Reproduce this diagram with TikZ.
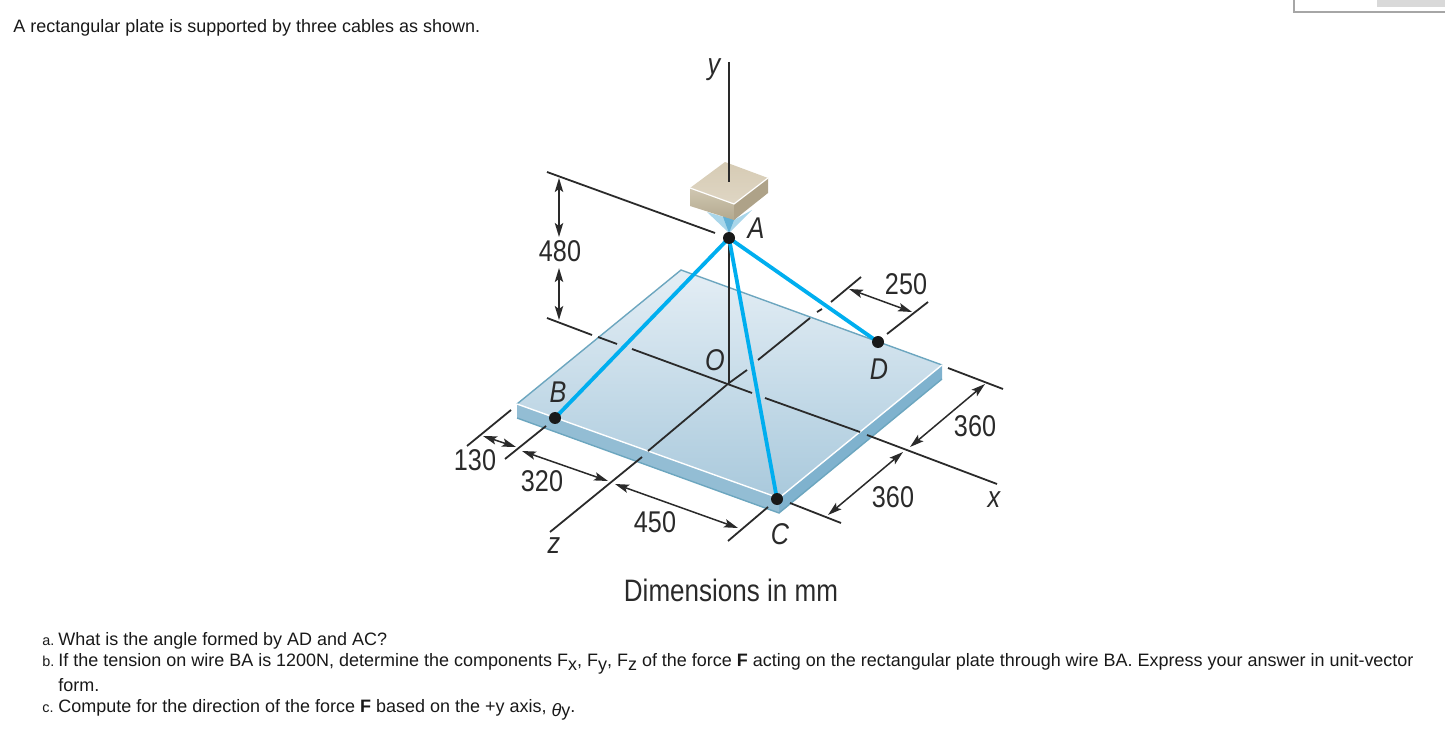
\documentclass[tikz,border=0pt]{standalone}
\usepackage{fontspec}
\setmainfont{Liberation Sans}
\newfontfamily\figfont[FakeStretch=0.84]{Liberation Sans}
\usetikzlibrary{arrows.meta}
\definecolor{cablecol}{HTML}{00AEEF}
\definecolor{inkcol}{HTML}{2A2A2A}
\definecolor{edgecol}{HTML}{6CA6BF}
\definecolor{platetop}{HTML}{E4EEF5}
\definecolor{platelow}{HTML}{A9C9DC}
\definecolor{sidefront}{HTML}{93BDD4}
\definecolor{sideright}{HTML}{7FB2CE}
\definecolor{boxtop}{HTML}{D6CBB4}
\definecolor{boxlow}{HTML}{DFD6C4}
\definecolor{boxfront}{HTML}{D0C7B1}
\definecolor{boxfrontlow}{HTML}{B3A98F}
\definecolor{boxside}{HTML}{AEA288}
\definecolor{conelight}{HTML}{A9D6EA}
\definecolor{conedark}{HTML}{62B1D6}

\tikzset{
	dimline/.style={draw=inkcol,line width=.9pt},
	axisline/.style={draw=inkcol,line width=1.15pt},
	dimarrow/.style={draw=inkcol,line width=.75pt,{Stealth[length=7pt,width=4.2pt,inset=1.5pt]}-{Stealth[length=7pt,width=4.2pt,inset=1.5pt]}},
	cable/.style={draw=cablecol,line width=1.9pt},
	pin/.style={circle,fill=black!90,inner sep=0pt,minimum size=6pt},
	figlabel/.style={font=\figfont\fontsize{15}{17}\selectfont,text=inkcol,inner sep=0pt},
	axislabel/.style={font=\figfont\itshape\fontsize{15}{17}\selectfont,text=inkcol,inner sep=0pt},
	textline/.style={anchor=base west,inner sep=0pt,font=\fontsize{8.99}{11}\selectfont,text=black!90},
	listmark/.style={anchor=base west,inner sep=0pt,font=\fontsize{7.2}{9}\selectfont,text=black!90}
}

\begin{document}
\begin{tikzpicture}[x=.5pt,y=-.5pt]
	\useasboundingbox (0,0) rectangle (1445,732);

	% corner of the page
	\fill[black!15] (1377,0) rectangle (1445,7);
	\draw[black!35,line width=.6pt] (1294,0) -- (1294,12) -- (1445,12);

	\coordinate (A) at (729,238);
	\coordinate (B) at (555,418);
	\coordinate (C) at (777,499);
	\coordinate (D) at (878,342);
	\coordinate (O) at (729,383);

	% plate
	\shade[top color=platetop,bottom color=platelow] (681,270) -- (942,365) -- (779,498) -- (517,404) -- cycle;
	\fill[sidefront] (517,404) -- (779,498) -- (779,513) -- (517,418) -- cycle;
	\fill[sideright] (779,498) -- (942,365) -- (942,379) -- (779,513) -- cycle;
	\draw[edgecol,line width=.7pt] (517,404) -- (681,270) -- (942,365);
	\draw[edgecol,line width=.7pt] (517,418) -- (779,513) -- (942,379);
	\draw[white,line width=.7pt] (517,404) -- (779,498) -- (942,365);

	% axes
	\draw[axisline] (A) -- (O);
	\draw[dimline] (547,318) -- (592,335);
	\draw[dimline] (598,337) -- (617,344);
	\draw[dimline] (632,349) -- (752,393);
	\draw[dimline] (765,398) -- (860,432);
	\draw[dimline] (867,435) -- (997,484);
	\draw[dimline] (550,532) -- (642,457);
	\draw[dimline] (648,451) -- (O) -- (747,370);
	\draw[dimline] (758,360) -- (810,318);
	\draw[dimline] (817,312) -- (822,309);
	\draw[dimline] (831,302) -- (861,277);

	% support
	\fill[conelight] (707,212) -- (729,233) -- (752,210) -- (734,220) -- cycle;
	\fill[conedark] (729,233) -- (734,220) -- (741,214) -- (722,214) -- cycle;
	\shade[top color=boxtop,bottom color=boxlow] (690,188) -- (725,162) -- (768,178) -- (734,204) -- cycle;
	\shade[top color=boxfront,bottom color=boxfrontlow] (690,188) -- (734,204) -- (734,220) -- (690,206) -- cycle;
	\fill[boxside] (734,204) -- (768,178) -- (768,193) -- (734,220) -- cycle;
	\draw[white,line width=.6pt] (690,188) -- (734,204) -- (768,178);
	\draw[axisline] (729,62) -- (729,182);

	% cables
	\draw[cable] (A) -- (B);
	\draw[cable] (A) -- (C);
	\draw[cable] (A) -- (D);
	\node[pin] (pinA) at (A) {};
	\node[pin] (pinB) at (B) {};
	\node[pin] (pinC) at (C) {};
	\node[pin] (pinD) at (D) {};

	% dimensions
	\draw[dimline] (547,172) -- (715,233);
	\draw[dimarrow] (559,178) -- (559,237);
	\draw[dimarrow] (559,268) -- (559,320);
	\draw[dimline] (887,334) -- (928,302);
	\draw[dimarrow] (849,289) -- (912,312);
	\draw[dimline] (948,368) -- (1003,389);
	\draw[dimarrow] (910,447) -- (985,384);
	\draw[dimarrow] (903,452) -- (828,515);
	\draw[dimline] (790,503) -- (841,523);
	\draw[dimline] (768,507) -- (728,541);
	\draw[dimarrow] (615,484) -- (738,528);
	\draw[dimarrow] (522,451) -- (608,481);
	\draw[dimarrow] (483,436) -- (516,447);
	\draw[dimline] (546,426) -- (505,459);
	\draw[dimline] (511,410) -- (467,446);

	\node[axislabel] (labA) at (756,228) {A};
	\node[axislabel] (labB) at (558,392) {B};
	\node[axislabel] (labC) at (780,534) {C};
	\node[axislabel] (labD) at (879,369) {D};
	\node[axislabel] (labO) at (715,360) {O};
	\node[axislabel] (labx) at (994,500) {x};
	\node[axislabel] (laby) at (714,70) {y};
	\node[axislabel] (labz) at (554,546) {z};

	\node[figlabel] (dim480) at (560,251) {480};
	\node[figlabel] (dim250) at (906,284) {250};
	\node[figlabel] (dim360a) at (975,426) {360};
	\node[figlabel] (dim360b) at (893,497) {360};
	\node[figlabel] (dim130) at (475,460) {130};
	\node[figlabel] (dim320) at (542,481) {320};
	\node[figlabel] (dim450) at (655,522) {450};
	\node[figlabel,font=\figfont\fontsize{15.5}{17}\selectfont] (units) at (731,590) {Dimensions in mm};

	% question text
	\node[textline] (intro) at (13,33) {A rectangular plate is supported by three cables as shown.};
	\node[listmark] (marka) at (42,645) {a.};
	\node[textline] (parta) at (58,645) {What is the angle formed by AD and AC?};
	\node[listmark] (markb) at (42,666) {b.};
	\node[textline] (partb) at (58,666) {If the tension on wire BA is 1200N, determine the components F\raisebox{-2pt}{x}, F\raisebox{-2pt}{y}, F\raisebox{-2pt}{z} of the force \textbf{F} acting on the rectangular plate through wire BA. Express your answer in unit-vector};
	\node[textline] (partb2) at (58,691) {form.};
	\node[listmark] (markc) at (42,712) {c.};
	\node[textline] (partc) at (58,712) {Compute for the direction of the force \textbf{F} based on the +y axis, \raisebox{-2pt}{\textit{θ}y}.};
\end{tikzpicture}
\end{document}
